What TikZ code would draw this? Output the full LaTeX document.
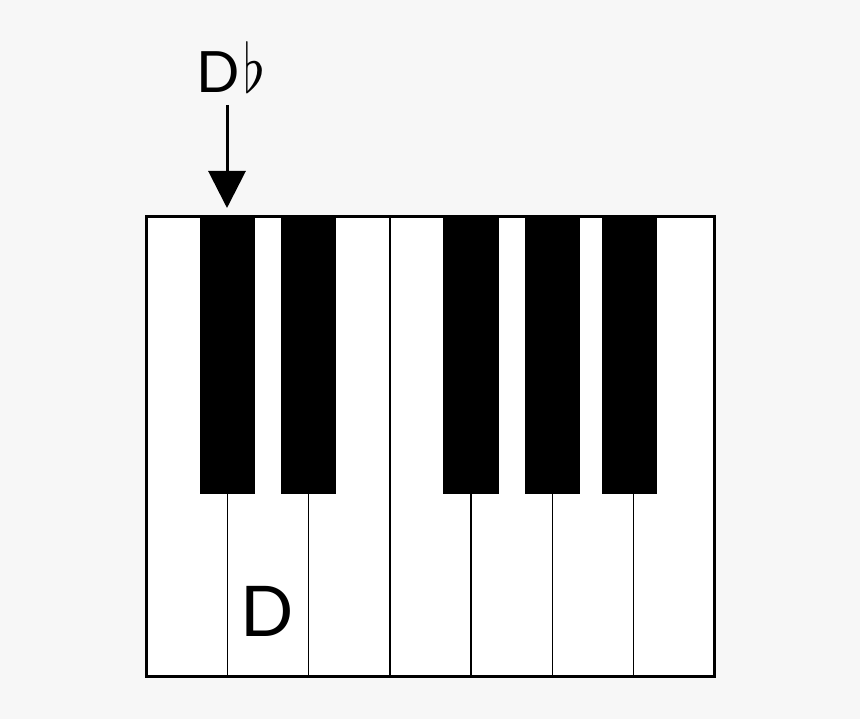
\documentclass[tikz,border=0pt]{standalone}
\usepackage{fontspec}
\setmainfont{Lato}
\usetikzlibrary{arrows.meta}
\definecolor{bg}{HTML}{F7F7F7}
\tikzset{
  blackkey/.style={fill=black, draw=none},
  keyline/.style={line width=1.2pt, draw=black},
  frame/.style={line width=2.6pt, draw=black, fill=white},
  label/.style={inner sep=0pt, text=black},
}
\begin{document}
\begin{tikzpicture}[x=1pt,y=-1pt]
\fill[bg] (0,0) rectangle (860,719);
\useasboundingbox (0,0) rectangle (860,719);
% keyboard frame
\draw[frame] (146.5,216.5) rectangle (714.5,676.5);
% white key separators
\foreach \x in {227.3,308.3,471,552.3,633.3} {
  \draw[keyline] (\x,494) -- (\x,676.5);
}
\draw[line width=1.6pt] (390,216.5) -- (390,676.5);
% black keys
\foreach \a/\b in {200/255,281/336,443.3/498.7,524.7/580,602/657} {
  \fill[blackkey] (\a,216.5) rectangle (\b,494);
}
\draw[frame, fill=none] (146.5,216.5) rectangle (714.5,676.5);
% labels
\node[label, anchor=base west, font=\fontsize{57}{60}\selectfont] (dflat) at (196,93) {D};
\node[label, anchor=south west] (flat) at (243,93) {\resizebox*{22pt}{51pt}{$\flat$}};
\node[label, anchor=base west, font=\fontsize{70}{74}\selectfont] (dnat) at (240,636) {D};
\coordinate (arrtop) at (227,105);
\coordinate (arrtip) at (227,208);
\draw[line width=3pt, -{Triangle[width=37pt,length=37pt]}] (arrtop) -- (arrtip);
\end{tikzpicture}
\end{document}
